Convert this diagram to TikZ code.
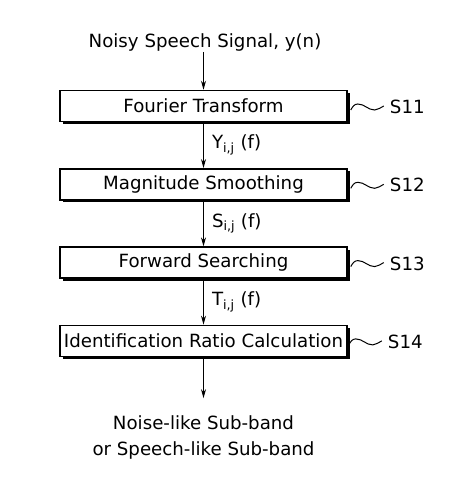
\documentclass[tikz,border=0pt]{standalone}
\usepackage{fontspec}
\setmainfont{DejaVu Sans}
\usepackage{tikz}
\usetikzlibrary{arrows.meta,calc,positioning,shadows}

\begin{document}
\begin{tikzpicture}[
  x=1pt, y=1pt,
  node distance=45.8pt,
  stepbox/.style={draw, line width=1.5pt, fill=white, minimum width=287pt, minimum height=31pt, inner sep=0pt, align=center, font=\fontsize{18.2}{20}\selectfont,
    drop shadow={shadow xshift=2.6pt, shadow yshift=-2.6pt, fill=black, opacity=1}},
  inout/.style={align=center, font=\fontsize{18.2}{26}\selectfont},
  steplabel/.style={anchor=west, inner sep=0pt, font=\fontsize{18.2}{20}\selectfont},
  flowlabel/.style={right, inner sep=0pt, xshift=8pt, font=\fontsize{18.2}{20}\selectfont},
  wave/.style={line width=1pt},
  arrow/.style={-{Stealth[length=9pt, width=5pt]}, line width=1pt}
]
  \useasboundingbox (0,0) rectangle (474,-486);

  \node[inout] (input) at (205,-42) {Noisy Speech Signal, y(n)};
  \node[stepbox] (ft) at (203.5,-106) {Fourier Transform};
  \node[stepbox, below=of ft] (smooth) {Magnitude Smoothing};
  \node[stepbox, below=of smooth] (search) {Forward Searching};
  \node[stepbox, below=of search] (ratio) {Identification Ratio Calculation};
  \node[inout, below=55pt of ratio] (output) {Noise-like Sub-band\\or Speech-like Sub-band};

  \coordinate (intop) at (203.5,-52);
  \coordinate (outend) at ($(ratio.south)+(0,-41)$);

  \draw[arrow] (intop) -- (ft);
  \draw[arrow] (ft) -- node[flowlabel]{Y\textsubscript{i,j} (f)} (smooth);
  \draw[arrow] (smooth) -- node[flowlabel]{S\textsubscript{i,j} (f)} (search);
  \draw[arrow] (search) -- node[flowlabel]{T\textsubscript{i,j} (f)} (ratio);
  \draw[arrow] (ratio) -- (outend);

  % step numbers with tilde leaders
  \draw[wave] ($(ft.east)+(3,-4)$) to[out=60,in=180] ++(7,6) to[out=0,in=180] ++(17,-6) to[out=0,in=200] ++(9,4) coordinate (w1);
  \node[steplabel] (s11) at ($(w1)+(6,-1)$) {S11};
  \draw[wave] ($(smooth.east)+(3,-4)$) to[out=60,in=180] ++(7,6) to[out=0,in=180] ++(17,-6) to[out=0,in=200] ++(9,4) coordinate (w2);
  \node[steplabel] (s12) at ($(w2)+(6,-1)$) {S12};
  \draw[wave] ($(search.east)+(3,-4)$) to[out=60,in=180] ++(7,6) to[out=0,in=180] ++(17,-6) to[out=0,in=200] ++(9,4) coordinate (w3);
  \node[steplabel] (s13) at ($(w3)+(6,-1)$) {S13};
  \draw[wave] ($(ratio.east)+(1,-4)$) to[out=60,in=180] ++(7,6) to[out=0,in=180] ++(17,-6) to[out=0,in=200] ++(9,4) coordinate (w4);
  \node[steplabel] (s14) at ($(w4)+(6,-1)$) {S14};
\end{tikzpicture}
\end{document}
